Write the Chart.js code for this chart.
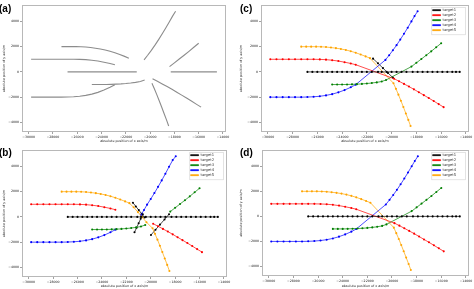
<!DOCTYPE html>
<html><head><meta charset="utf-8">
<script src="https://cdn.jsdelivr.net/npm/chart.js@4/dist/chart.umd.min.js"></script>
<style>
html,body{margin:0;padding:0;background:#fff;width:474px;height:289px;overflow:hidden;position:relative}
canvas{position:absolute}
.lab{position:absolute;font:bold 10px "Liberation Sans",Arial,sans-serif;color:#000;line-height:10px}
</style></head><body>
<canvas id="ca" width="237" height="144" style="left:0px;top:0px"></canvas>
<canvas id="cc" width="237" height="144" style="left:237px;top:0px"></canvas>
<canvas id="cb" width="237" height="145" style="left:0px;top:144px"></canvas>
<canvas id="cd" width="237" height="145" style="left:237px;top:144px"></canvas>
<div class="lab" style="left:-1px;top:4px">(a)</div>
<div class="lab" style="left:240px;top:4px">(c)</div>
<div class="lab" style="left:-1px;top:148px">(b)</div>
<div class="lab" style="left:240px;top:148px">(d)</div>
<script>
// ---------- data ----------
const xTicks = [-30000,-28000,-26000,-24000,-22000,-20000,-18000,-16000,-14000];
const yTicks = [-4000,-2000,0,2000,4000];
const seriesNames = ['target1','target2','target3','target4','target5'];

// target1
const t1EarlyX = [-26800,-26400,-26000,-25600,-25200,-24800,-24400,-24000,-23600,-23200,-22800,-22400,-22000,-21600,-21100];
const t1EarlyY = [0,0,0,0,0,0,0,0,0,0,0,0,0,0,0];
const t1MidX = [-20800,-20400,-20000,-19600,-19200,-18800];
const t1MidY = [0,0,0,0,0,0];
const t1LateX = [-18300,-17900,-17500,-17100,-16700,-16300,-15900,-15500,-15100,-14800,-14500];
const t1LateY = [0,0,0,0,0,0,0,0,0,0,0];
// target2
const t2EarlyX = [-29800,-29300,-28800,-28300,-27800,-27300,-26800,-26300,-25800,-25300,-24800,-24300,-23800,-23300,-22900];
const t2EarlyY = [1000,1000,1000,1000,1000,1000,1000,1000,990,970,925,860,770,670,570];
const t2LateX = [-19800,-19400,-19000,-18600,-18200,-17800,-17400,-17000,-16600,-16200,-15800];
const t2LateY = [-540,-740,-950,-1160,-1380,-1610,-1840,-2070,-2310,-2550,-2790];
// target3
const t3EarlyX = [-24800,-24400,-24000,-23600,-23200,-22800,-22400,-22000,-21600,-21200,-20800,-20450];
const t3EarlyY = [-1000,-1000,-1000,-995,-985,-970,-950,-920,-880,-830,-760,-640];
const t3LateX = [-18400,-18000,-17600,-17200,-16800,-16400,-16000];
const t3LateY = [420,720,1020,1320,1630,1950,2270];
// target4
const t4EarlyX = [-29800,-29300,-28800,-28300,-27800,-27300,-26800,-26300,-25800,-25300,-24800,-24300,-23800,-23300,-22900];
const t4EarlyY = [-2000,-2000,-2000,-2000,-2000,-2000,-1990,-1970,-1930,-1860,-1760,-1620,-1440,-1220,-1010];
const t4LateX = [-20500,-20200,-19900,-19600,-19300,-19000,-18700,-18400,-18150,-17900];
const t4LateY = [950,1320,1710,2120,2560,3020,3500,4000,4420,4800];
// target5
const t5EarlyX = [-27300,-26900,-26500,-26100,-25700,-25300,-24900,-24500,-24100,-23700,-23300,-22900,-22500,-22100,-21750];
const t5EarlyY = [2000,2000,2000,2000,1990,1970,1930,1880,1820,1740,1640,1520,1380,1230,1090];
const t5LateX = [-19850,-19650,-19450,-19250,-19050,-18850,-18650,-18470];
const t5LateY = [-900,-1340,-1800,-2280,-2780,-3290,-3800,-4280];

// panel (b) specific estimates
const bT4LateX = [-20800,-20550,-20300,-20000,-19700,-19400,-19100,-18800,-18500,-18200,-17950];
const bT4LateY = [150,550,970,1420,1890,2380,2890,3420,3970,4500,4800];
const bT5MidX = [-21400,-21050,-20700,-20350];
const bT5MidY = [760,380,-20,-420];
const bFalse1X = [-21460,-21220,-20980,-20740,-20500];
const bFalse1Y = [1125,830,540,240,-50];
const bFalse2X = [-21330,-21160,-20990,-20820,-20650];
const bFalse2Y = [-1220,-860,-500,-140,210];
const bFalse3X = [-19980,-19610,-19240,-18870,-18500];
const bFalse3Y = [-1430,-1020,-610,-200,210];
// panel (c) extra target1 estimate
const cFalseX = [-21500,-21100,-20700,-20300,-19900];
const cFalseY = [1050,680,300,-80,-450];

// ---------- styling ----------
const FONT = 'DejaVu Sans';
const COLORS = ['#000000','#ff0000','#008000','#0000ff','#ffa500'];
const X_MIN = -30550, X_MAX = -13750, Y_MIN = -4760, Y_MAX = 5300;
const xTitle = 'absolute position of x axis/m';
const yTitle = 'absolute position of y axis/m';
const fmt = v => (v < 0 ? '\u2212' : '') + Math.abs(v);

function pts(xs, ys){ return xs.map((x,i)=>({x:x, y:ys[i]})); }
function cat(){ const out=[]; for(let i=0;i<arguments.length;i+=2){ out.push(...pts(arguments[i],arguments[i+1])); } return out; }

function track(label, data, color, extra){
  return Object.assign({label, data, borderColor:color, backgroundColor:color, showLine:true,
    borderWidth:0.7, pointRadius:1.05, pointBorderWidth:0, pointHoverRadius:0, fill:false, tension:0}, extra||{});
}
function grey(data){
  return {label:'', data, borderColor:'#8c8c8c', backgroundColor:'#8c8c8c', showLine:true,
    borderWidth:1.1, pointRadius:0, pointHoverRadius:0, fill:false, tension:0};
}

function scales(yW, xH){
  const tickFont = {family:FONT, size:3.2};
  const titleFont = {family:FONT, size:3.3};
  return {
    x:{type:'linear', min:X_MIN, max:X_MAX,
      afterBuildTicks: s => { s.ticks = xTicks.map(v=>({value:v})); },
      afterFit: s => { s.height = xH; },
      ticks:{font:tickFont, color:'#222', padding:1, autoSkip:false, maxRotation:0, callback:fmt},
      grid:{drawOnChartArea:false, tickLength:2, color:'#444', lineWidth:0.5},
      border:{display:false},
      title:{display:true, text:xTitle, font:titleFont, color:'#222', padding:{top:0,bottom:1}}},
    y:{type:'linear', min:Y_MIN, max:Y_MAX,
      afterBuildTicks: s => { s.ticks = yTicks.map(v=>({value:v})); },
      afterFit: s => { s.width = yW; },
      ticks:{font:tickFont, color:'#222', padding:1, autoSkip:false, callback:fmt},
      grid:{drawOnChartArea:false, tickLength:2, color:'#444', lineWidth:0.5},
      border:{display:false},
      title:{display:true, text:yTitle, font:titleFont, color:'#222', padding:{top:2,bottom:0}}}
  };
}

const framePlugin = {
  id:'frame',
  afterDraw(chart){
    const {ctx, chartArea:a} = chart;
    ctx.save(); ctx.strokeStyle='#b8b8b8'; ctx.lineWidth=1;
    ctx.strokeRect(a.left+0.5, a.top+0.5, a.right-a.left-1, a.bottom-a.top-1);
    ctx.restore();
  }
};

const legendInside = {
  id:'legendInside',
  beforeInit(chart){
    const lg = chart.legend; if(!lg) return;
    const fit = lg.fit;
    lg.fit = function(){ fit.call(this); this._w = this.width; this.width = 0; };
  },
  afterLayout(chart){
    const lg = chart.legend; if(!lg || !lg.options.display) return;
    const a = chart.chartArea;
    lg.width = lg._w;
    lg.left = a.right - lg._w - 3;
    lg.right = lg.left + lg._w;
    lg.top = a.top + 2;
    lg.bottom = a.bottom;
  },
  afterDraw(chart){
    const lg = chart.legend; if(!lg || !lg.options.display) return;
    const n = lg.legendItems.length;
    const lo = lg.options.labels;
    const h = n*(lo.font.size + lo.padding) + lo.padding + 1;
    const ctx = chart.ctx;
    ctx.save(); ctx.strokeStyle='#d0d0d0'; ctx.lineWidth=0.6;
    ctx.strokeRect(lg.left+0.5, lg.top+0.5, lg._w-1, h);
    ctx.restore();
  }
};

function makeChart(id, datasets, yW, xH, pad, showLegend){
  return new Chart(document.getElementById(id), {
    type:'scatter',
    data:{datasets},
    options:{
      responsive:false, animation:false, devicePixelRatio:1,
      layout:{padding:pad},
      scales:scales(yW, xH),
      plugins:{
        legend:{display:showLegend, position:'right', align:'start',
          labels:{font:{family:FONT, size:3.7}, color:'#333', boxWidth:8, boxHeight:1, padding:1.3,
            filter: it => it.text && it.text.indexOf('target')===0}},
        tooltip:{enabled:false}
      }
    },
    plugins:[framePlugin, legendInside]
  });
}

// (a) measured track fragments
makeChart('ca', [
  grey(pts(t1EarlyX,t1EarlyY)), grey(pts(t1LateX,t1LateY)),
  grey(pts(t2EarlyX,t2EarlyY)), grey(pts(t2LateX,t2LateY)),
  grey(pts(t3EarlyX,t3EarlyY)), grey(pts(t3LateX,t3LateY)),
  grey(pts(t4EarlyX,t4EarlyY)), grey(pts(t4LateX,t4LateY)),
  grey(pts(t5EarlyX,t5EarlyY)), grey(pts(t5LateX,t5LateY))
], 22, 12, {left:0, top:5, right:11, bottom:0}, false);

// (b)
makeChart('cb', [
  track(seriesNames[0], cat(t1EarlyX,t1EarlyY,t1MidX,t1MidY,t1LateX,t1LateY), COLORS[0]),
  track(seriesNames[1], pts(t2EarlyX,t2EarlyY), COLORS[1]),
  track(seriesNames[2], pts(t3EarlyX,t3EarlyY), COLORS[2]),
  track(seriesNames[3], pts(t4EarlyX,t4EarlyY), COLORS[3]),
  track(seriesNames[4], cat(t5EarlyX,t5EarlyY,bT5MidX,bT5MidY,t5LateX,t5LateY), COLORS[4]),
  track('', pts(t2LateX,t2LateY), COLORS[1]),
  track('', pts(t3LateX,t3LateY), COLORS[2]),
  track('', pts(bT4LateX,bT4LateY), COLORS[3]),
  track('', pts(bFalse1X,bFalse1Y), COLORS[0]),
  track('', pts(bFalse2X,bFalse2Y), COLORS[0]),
  track('', pts(bFalse3X,bFalse3Y), COLORS[0])
], 22, 12, {left:0, top:6, right:10, bottom:0}, true);

// (c)
makeChart('cc', [
  track(seriesNames[0], cat(t1EarlyX,t1EarlyY,t1MidX,t1MidY,t1LateX,t1LateY), COLORS[0]),
  track(seriesNames[1], cat(t2EarlyX,t2EarlyY,t2LateX,t2LateY), COLORS[1]),
  track(seriesNames[2], cat(t3EarlyX,t3EarlyY,t3LateX,t3LateY), COLORS[2]),
  track(seriesNames[3], cat(t4EarlyX,t4EarlyY,t4LateX,t4LateY), COLORS[3]),
  track(seriesNames[4], cat(t5EarlyX,t5EarlyY,t5LateX,t5LateY), COLORS[4]),
  track('', pts(cFalseX,cFalseY), COLORS[0])
], 24, 12, {left:0, top:5, right:5, bottom:0}, true);

// (d)
makeChart('cd', [
  track(seriesNames[0], cat(t1EarlyX,t1EarlyY,t1MidX,t1MidY,t1LateX,t1LateY), COLORS[0]),
  track(seriesNames[1], cat(t2EarlyX,t2EarlyY,t2LateX,t2LateY), COLORS[1]),
  track(seriesNames[2], cat(t3EarlyX,t3EarlyY,t3LateX,t3LateY), COLORS[2]),
  track(seriesNames[3], cat(t4EarlyX,t4EarlyY,t4LateX,t4LateY), COLORS[3]),
  track(seriesNames[4], cat(t5EarlyX,t5EarlyY,t5LateX,t5LateY), COLORS[4])
], 25, 13, {left:0, top:6, right:5, bottom:0}, true);
</script>
</body></html>
